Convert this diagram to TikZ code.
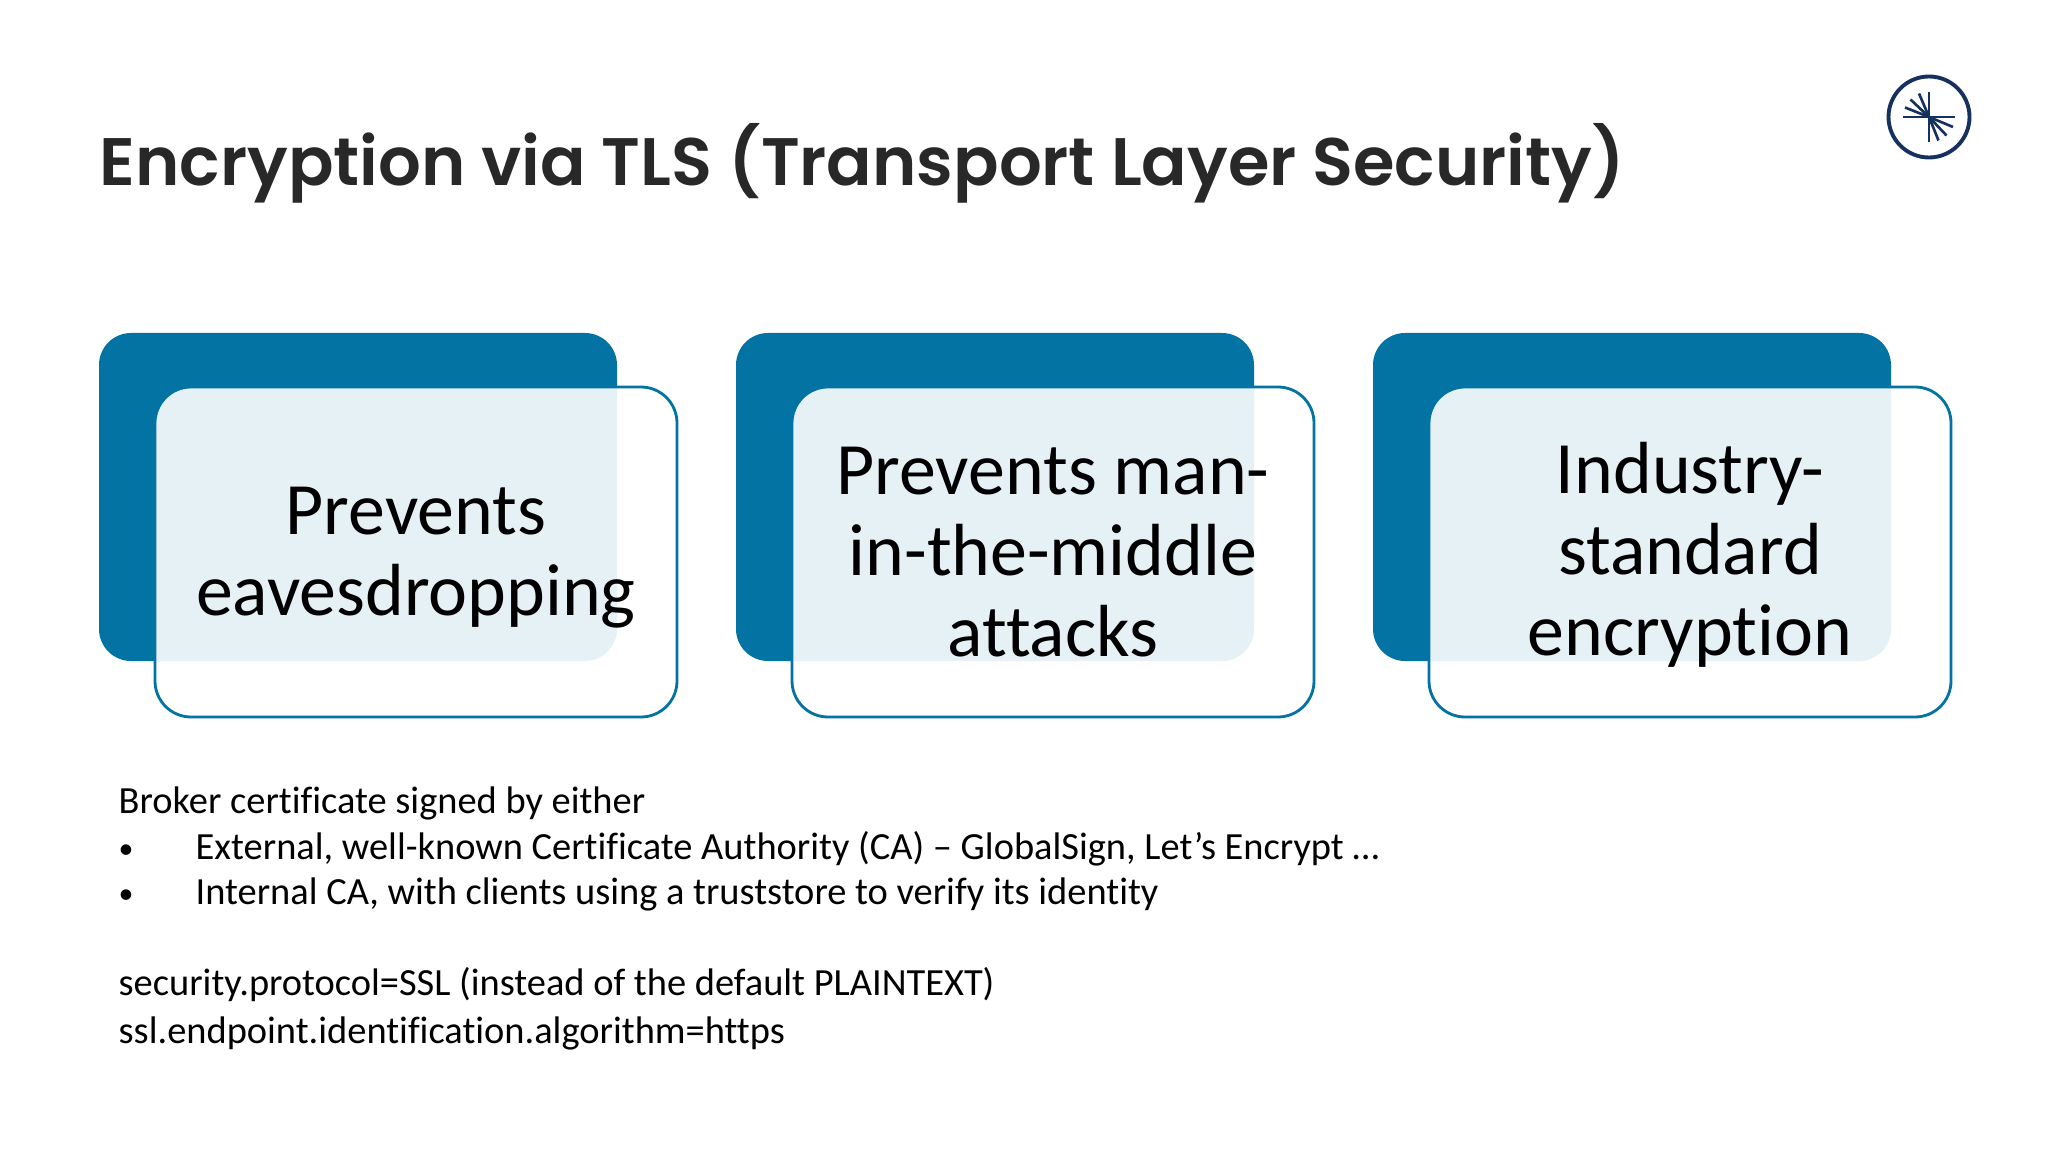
\documentclass[tikz,border=0pt]{standalone}
\usepackage{fontspec}
\setmainfont[RawFeature={-liga;-clig}]{Carlito}
\newfontfamily\titlefont[BoldFont={Poppins SemiBold}]{Poppins}
\definecolor{cblue}{HTML}{0273A3}
\definecolor{navy}{HTML}{16315F}
\definecolor{ink}{HTML}{282828}
\tikzset{
  back/.style={fill=cblue,rounded corners=0.32cm},
  front/.style={draw=cblue,line width=0.8pt,fill=white,fill opacity=.9,rounded corners=0.36cm},
  boxtext/.style={align=center,inner sep=0,text=black,font=\fontsize{21}{23.1}\selectfont},
  body/.style={anchor=base west,inner sep=0,text=black,font=\fontsize{10.93}{12}\selectfont},
  ray/.style={draw=navy,line width=0.75pt},
}
\begin{document}
\begin{tikzpicture}[x=0.01cm,y=-0.01cm]
\useasboundingbox (0,0) rectangle (2048,1152);
\fill[white] (0,0) rectangle (2048,1152);
\node[anchor=base west,inner sep=0,text=ink,font=\titlefont\bfseries\fontsize{19.1}{24}\selectfont] (title) at (99,186) {Encryption via TLS (Transport Layer Security)};
\foreach \n/\dx in {a/0,b/637,c/1274}{
  \begin{scope}[xshift=\dx*0.01cm]
    \path[back] (99,333) rectangle (617,661);
    \path[front] (155,387) rectangle (677,717);
  \end{scope}
}
\node[boxtext] (ta) at (416,558) {Prevents\\eavesdropping};
\node[boxtext] (tb) at (1053,552) {Prevents man-\\in-the-middle\\attacks};
\node[boxtext] (tc) at (1690,555) {Industry-\\standard\\encryption};
\node[body] (l1) at (118,813) {Broker certificate signed by either};
\node[body,font=\fontsize{8.5}{12}\selectfont] (b2) at (118,858) {•};
\node[body] (l2) at (195,859) {External, well-known Certificate Authority (CA) – GlobalSign, Let’s Encrypt …};
\node[body,font=\fontsize{8.5}{12}\selectfont] (b3) at (118,903) {•};
\node[body] (l3) at (195,904) {Internal CA, with clients using a truststore to verify its identity};
\node[body] (l4) at (118,995) {security.protocol=SSL (instead of the default PLAINTEXT)};
\node[body] (l5) at (118,1043) {ssl.endpoint.identification.algorithm=https};
\draw[navy,line width=1.1pt] (1929,117) circle (40.5);
\coordinate (o) at (1929,117);
\foreach \dx/\dy in {-26/0,26/0,0/-25,0/25,-24/-9.5,-18.5/-17.5,-10/-23.5,24/10,17.5/18.5,9.5/23.5}{
  \draw[ray] (o) -- ++(\dx,\dy);
}
\end{tikzpicture}
\end{document}
